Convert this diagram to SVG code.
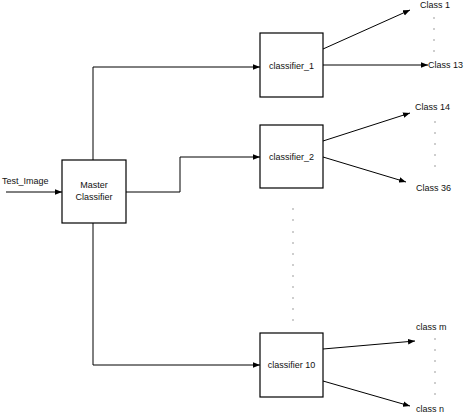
<svg xmlns="http://www.w3.org/2000/svg" width="474" height="413" viewBox="0 0 474 413">
<defs>
<marker id="ah" viewBox="0 0 10 10" refX="10" refY="5" markerWidth="7" markerHeight="7" markerUnits="userSpaceOnUse" orient="auto">
<path d="M0,1 L10,5 L0,9 Z" fill="#000"/>
</marker>
</defs>
<style>
.box{fill:#fff;stroke:#000;stroke-width:1.2}
.ln{fill:none;stroke:#000;stroke-width:1}
.t{font-family:"Liberation Sans",Arial,sans-serif;font-size:9px;fill:#111}
.c{text-anchor:middle}
.dot{fill:#777}
</style>
<rect width="474" height="413" fill="#fff"/>
<g id="connectors">
<path class="ln" d="M6,192 L62,192" marker-end="url(#ah)"/>
<path class="ln" d="M93,160 L93,67 L260,67" marker-end="url(#ah)"/>
<path class="ln" d="M126,192 L180,192 L180,157 L260,157" marker-end="url(#ah)"/>
<path class="ln" d="M93,223 L93,365 L260,365" marker-end="url(#ah)"/>
<path class="ln" d="M323,49 L410,10" marker-end="url(#ah)"/>
<path class="ln" d="M323,65 L428,65" marker-end="url(#ah)"/>
<path class="ln" d="M323,141 L410,113" marker-end="url(#ah)"/>
<path class="ln" d="M323,157 L406,182" marker-end="url(#ah)"/>
<path class="ln" d="M323,349 L415,341" marker-end="url(#ah)"/>
<path class="ln" d="M323,381 L410,406" marker-end="url(#ah)"/>
</g>
<g id="test_image"><text class="t" x="2" y="184">Test_Image</text></g>
<g id="master"><rect class="box" x="62" y="160" width="64" height="63"/>
<text class="t c" x="94" y="188">Master</text><text class="t c" x="94" y="200">Classifier</text></g>
<g id="classifier_1"><rect class="box" x="260" y="33" width="63" height="64"/><text class="t c" x="291.5" y="69">classifier_1</text></g>
<g id="classifier_2"><rect class="box" x="260" y="125" width="63" height="63"/><text class="t c" x="291.5" y="160">classifier_2</text></g>
<g id="classifier_10"><rect class="box" x="260" y="333" width="63" height="64"/><text class="t c" x="291.5" y="368">classifier 10</text></g>
<g id="labels">
<text class="t" x="420" y="8">Class 1</text>
<text class="t" x="428" y="68">Class 13</text>
<text class="t" x="415" y="110">Class 14</text>
<text class="t" x="416" y="191">Class 36</text>
<text class="t" x="416" y="330">class m</text>
<text class="t" x="416" y="412">class n</text>
</g>
<g id="dots">
<circle class="dot" cx="434" cy="18" r="0.7"/><circle class="dot" cx="434" cy="29" r="0.7"/><circle class="dot" cx="434" cy="40" r="0.7"/><circle class="dot" cx="434" cy="51" r="0.7"/>
<circle class="dot" cx="435" cy="122" r="0.7"/><circle class="dot" cx="435" cy="133" r="0.7"/><circle class="dot" cx="435" cy="144" r="0.7"/><circle class="dot" cx="435" cy="155" r="0.7"/><circle class="dot" cx="435" cy="166" r="0.7"/>
<circle class="dot" cx="435" cy="339" r="0.7"/><circle class="dot" cx="435" cy="350" r="0.7"/><circle class="dot" cx="435" cy="361" r="0.7"/><circle class="dot" cx="435" cy="372" r="0.7"/><circle class="dot" cx="435" cy="383" r="0.7"/><circle class="dot" cx="435" cy="394" r="0.7"/>
<circle class="dot" cx="293" cy="209" r="0.7"/><circle class="dot" cx="293" cy="220" r="0.7"/><circle class="dot" cx="293" cy="232" r="0.7"/><circle class="dot" cx="293" cy="243" r="0.7"/><circle class="dot" cx="293" cy="254" r="0.7"/><circle class="dot" cx="293" cy="265" r="0.7"/><circle class="dot" cx="293" cy="276" r="0.7"/><circle class="dot" cx="293" cy="287" r="0.7"/><circle class="dot" cx="293" cy="298" r="0.7"/><circle class="dot" cx="293" cy="309" r="0.7"/><circle class="dot" cx="293" cy="320" r="0.7"/>
</g>
</svg>
